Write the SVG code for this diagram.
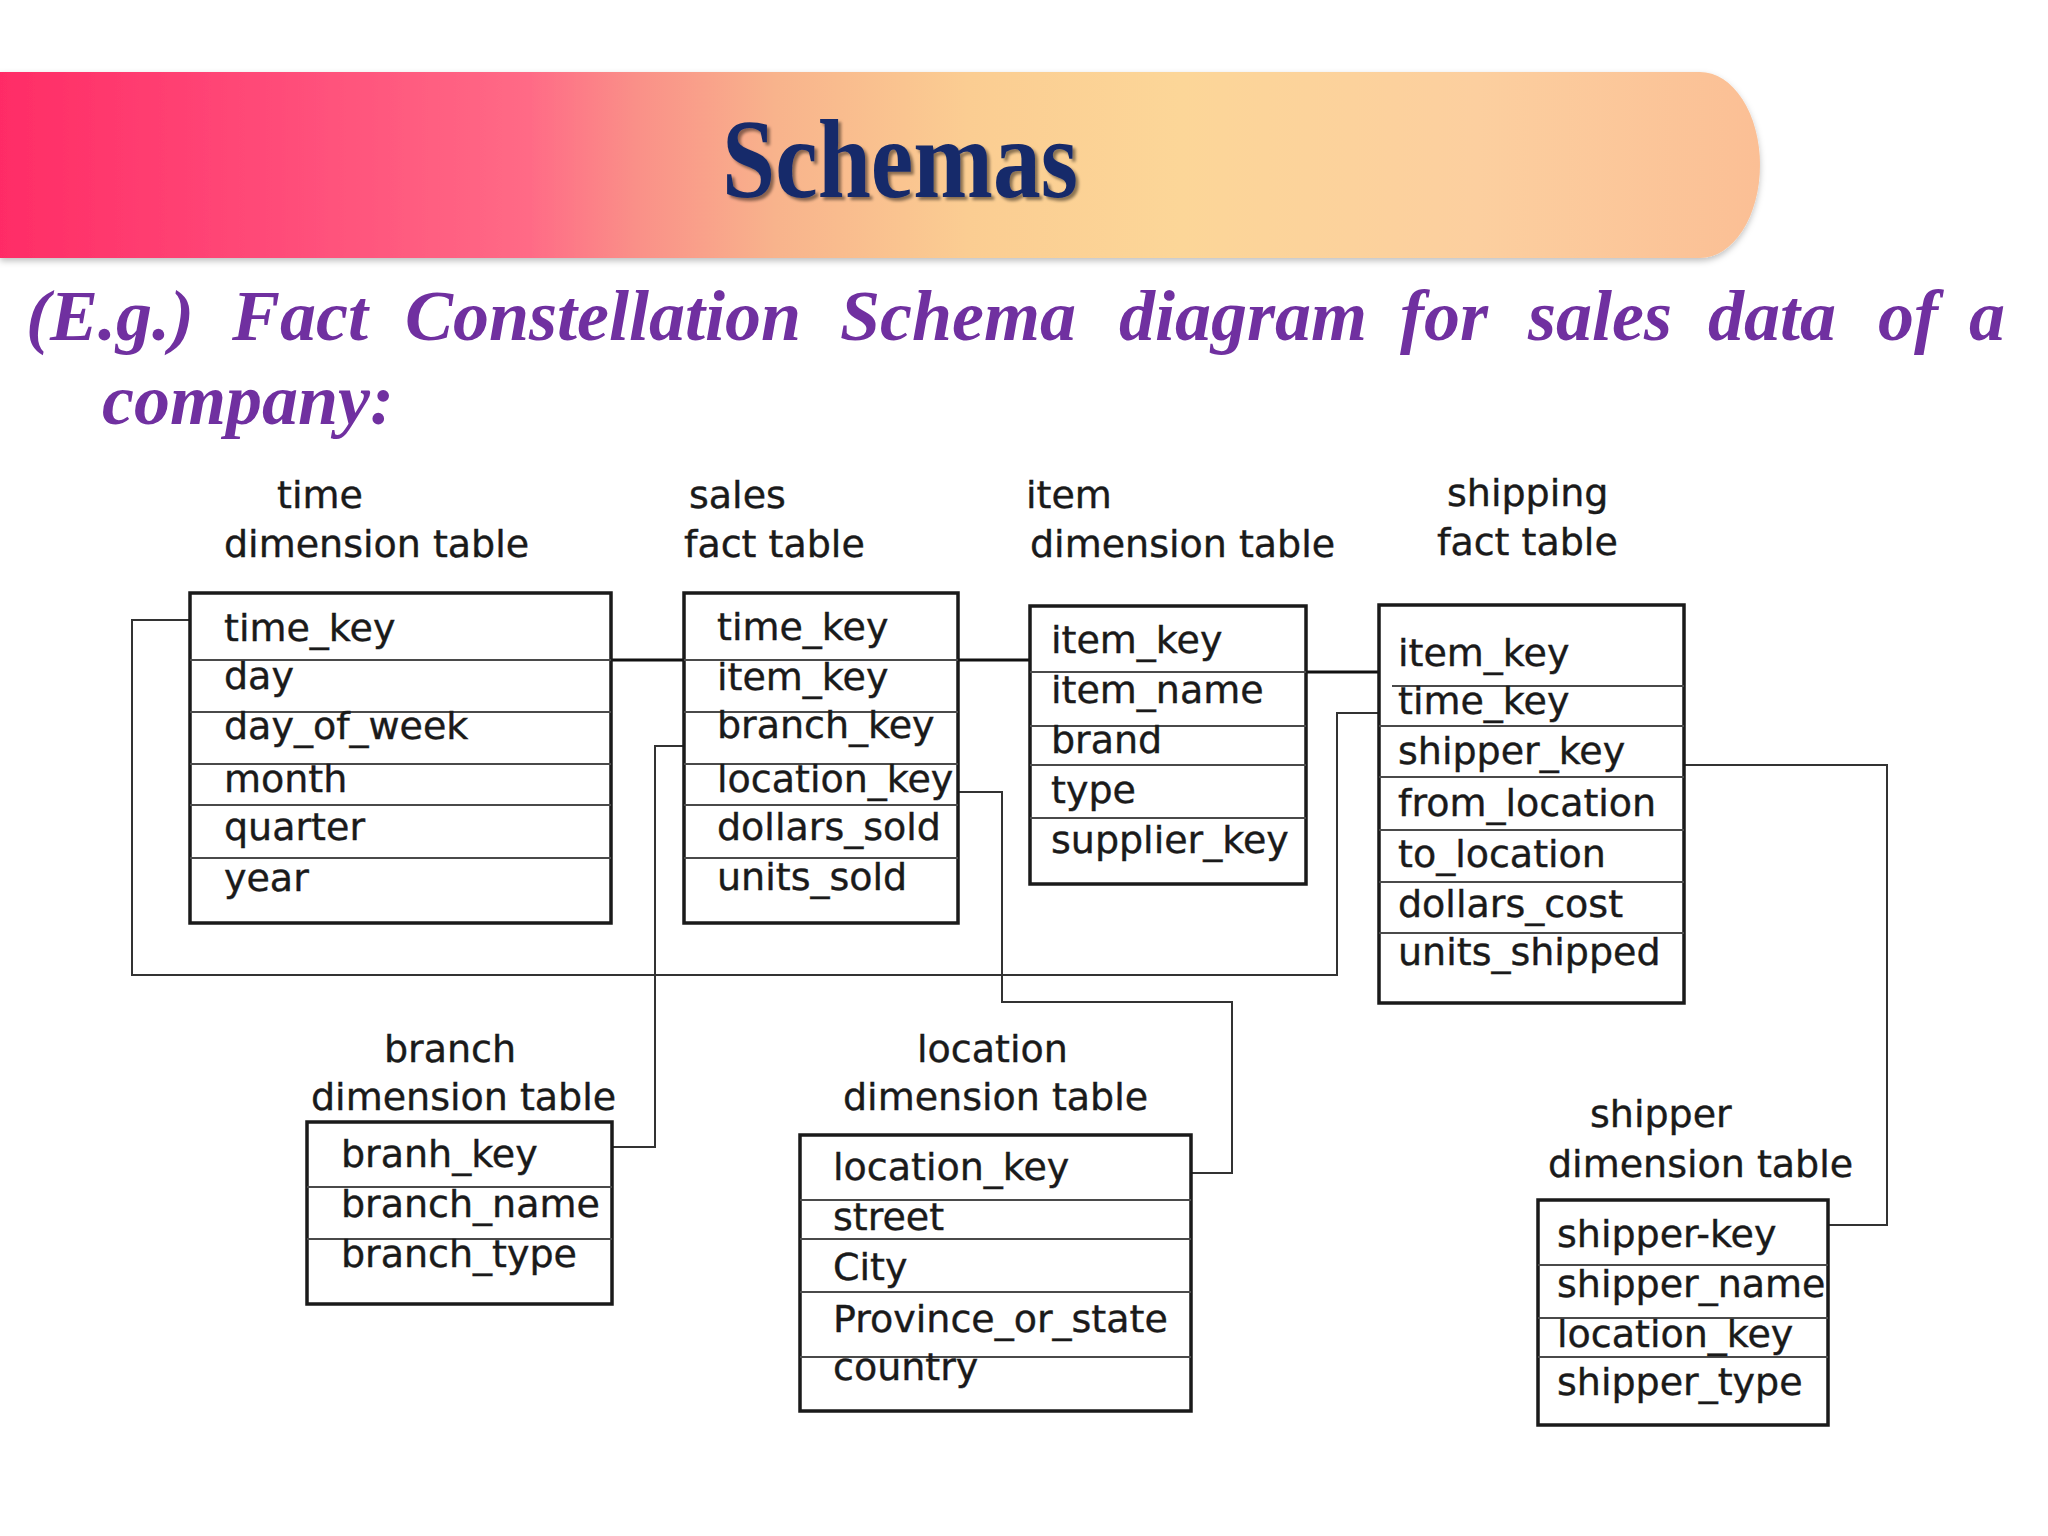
<svg xmlns="http://www.w3.org/2000/svg" width="2048" height="1536" viewBox="0 0 2048 1536">
<defs>
<linearGradient id="bannerGrad" x1="0" y1="0" x2="1760" y2="0" gradientUnits="userSpaceOnUse">
<stop offset="0" stop-color="#ff2c66"/>
<stop offset="0.15" stop-color="#ff4a78"/>
<stop offset="0.30" stop-color="#ff6a86"/>
<stop offset="0.36" stop-color="#fa8f88"/>
<stop offset="0.44" stop-color="#f8b38c"/>
<stop offset="0.55" stop-color="#fbcd92"/>
<stop offset="0.67" stop-color="#fcd698"/>
<stop offset="0.84" stop-color="#fccf9f"/>
<stop offset="1" stop-color="#fbbf95"/>
</linearGradient>
<filter id="bannerShadow" x="-5%" y="-20%" width="110%" height="150%">
<feDropShadow dx="0" dy="3" stdDeviation="3" flood-color="#000" flood-opacity="0.25"/>
</filter>
<filter id="titleShadow" x="-10%" y="-20%" width="120%" height="150%">
<feDropShadow dx="3" dy="3" stdDeviation="1.5" flood-color="#000" flood-opacity="0.45"/>
</filter>
<style>
.box{fill:#fff;stroke:#1a1a1a;stroke-width:3.5}
.sep{stroke:#4a4a4a;stroke-width:2}
.conn{fill:none;stroke:#333;stroke-width:2}
.link{fill:none;stroke:#111;stroke-width:3}
.t{font-family:"DejaVu Sans","Liberation Sans",sans-serif;font-size:38px;fill:#1a1a1a;stroke:#1a1a1a;stroke-width:0.4}
.h{font-family:"DejaVu Sans","Liberation Sans",sans-serif;font-size:38px;fill:#1a1a1a;stroke:#1a1a1a;stroke-width:0.4}
.title{font-family:"Liberation Serif","Times New Roman",serif;font-weight:bold;font-size:112px;fill:#172b6b}
.sub{font-family:"Liberation Serif","Times New Roman",serif;font-weight:bold;font-style:italic;font-size:72px;fill:#7030a0}
</style>
</defs>
<rect width="2048" height="1536" fill="#fff"/>

<g id="banner">
<path d="M0,72 H1700 A60,93 0 0 1 1700,258 H0 Z" fill="url(#bannerGrad)" filter="url(#bannerShadow)"/>
<text class="title" x="722" y="197" textLength="356" lengthAdjust="spacingAndGlyphs" filter="url(#titleShadow)">Schemas</text>
</g>

<g id="subtitle">
<text class="sub" y="340"><tspan x="26">(E.g.)</tspan><tspan x="232">Fact</tspan><tspan x="405">Constellation</tspan><tspan x="840">Schema</tspan><tspan x="1119">diagram</tspan><tspan x="1400">for</tspan><tspan x="1528">sales</tspan><tspan x="1708">data</tspan><tspan x="1878">of</tspan><tspan x="1969">a</tspan></text>
<text class="sub" x="102" y="424">company:</text>
</g>

<g id="connectors">
<line class="link" x1="611" y1="660" x2="684" y2="660"/>
<line class="link" x1="958" y1="660" x2="1030" y2="660"/>
<line class="link" x1="1306" y1="672" x2="1379" y2="672"/>
<polyline class="conn" points="190,620 132,620 132,975 1337,975 1337,713 1379,713"/>
<polyline class="conn" points="684,746 655,746 655,1147 612,1147"/>
<polyline class="conn" points="958,792 1002,792 1002,1002 1232,1002 1232,1173 1191,1173"/>
<polyline class="conn" points="1684,765 1887,765 1887,1225 1828,1225"/>
</g>

<g id="time">
<text class="h" x="277" y="508">time</text>
<text class="h" x="224" y="557">dimension table</text>
<rect class="box" x="190" y="593" width="421" height="330"/>
<line class="sep" x1="190" y1="660" x2="611" y2="660"/>
<line class="sep" x1="190" y1="712" x2="611" y2="712"/>
<line class="sep" x1="190" y1="764" x2="611" y2="764"/>
<line class="sep" x1="190" y1="805" x2="611" y2="805"/>
<line class="sep" x1="190" y1="858" x2="611" y2="858"/>
<text class="t" x="224" y="641">time_key</text>
<text class="t" x="224" y="689">day</text>
<text class="t" x="224" y="739">day_of_week</text>
<text class="t" x="224" y="792">month</text>
<text class="t" x="224" y="840">quarter</text>
<text class="t" x="224" y="891">year</text>
</g>

<g id="sales">
<text class="h" x="689" y="508">sales</text>
<text class="h" x="684" y="557">fact table</text>
<rect class="box" x="684" y="593" width="274" height="330"/>
<line class="sep" x1="684" y1="660" x2="958" y2="660"/>
<line class="sep" x1="684" y1="712" x2="958" y2="712"/>
<line class="sep" x1="684" y1="764" x2="958" y2="764"/>
<line class="sep" x1="684" y1="805" x2="958" y2="805"/>
<line class="sep" x1="684" y1="858" x2="958" y2="858"/>
<text class="t" x="717" y="640">time_key</text>
<text class="t" x="717" y="690">item_key</text>
<text class="t" x="717" y="738">branch_key</text>
<text class="t" x="717" y="792">location_key</text>
<text class="t" x="717" y="840">dollars_sold</text>
<text class="t" x="717" y="890">units_sold</text>
</g>

<g id="item">
<text class="h" x="1026" y="508">item</text>
<text class="h" x="1030" y="557">dimension table</text>
<rect class="box" x="1030" y="606" width="276" height="278"/>
<line class="sep" x1="1030" y1="672" x2="1306" y2="672"/>
<line class="sep" x1="1030" y1="726" x2="1306" y2="726"/>
<line class="sep" x1="1030" y1="765" x2="1306" y2="765"/>
<line class="sep" x1="1030" y1="818" x2="1306" y2="818"/>
<text class="t" x="1051" y="653">item_key</text>
<text class="t" x="1051" y="703">item_name</text>
<text class="t" x="1051" y="753">brand</text>
<text class="t" x="1051" y="803">type</text>
<text class="t" x="1051" y="853">supplier_key</text>
</g>

<g id="shipping">
<text class="h" x="1447" y="506">shipping</text>
<text class="h" x="1437" y="555">fact table</text>
<rect class="box" x="1379" y="605" width="305" height="398"/>
<line class="sep" x1="1392" y1="686" x2="1684" y2="686"/>
<line class="sep" x1="1379" y1="726" x2="1684" y2="726"/>
<line class="sep" x1="1379" y1="777" x2="1684" y2="777"/>
<line class="sep" x1="1379" y1="830" x2="1684" y2="830"/>
<line class="sep" x1="1379" y1="882" x2="1684" y2="882"/>
<line class="sep" x1="1379" y1="933" x2="1684" y2="933"/>
<text class="t" x="1398" y="666">item_key</text>
<text class="t" x="1398" y="714">time_key</text>
<text class="t" x="1398" y="764">shipper_key</text>
<text class="t" x="1398" y="816">from_location</text>
<text class="t" x="1398" y="867">to_location</text>
<text class="t" x="1398" y="917">dollars_cost</text>
<text class="t" x="1398" y="965">units_shipped</text>
</g>

<g id="branch">
<text class="h" x="384" y="1062">branch</text>
<text class="h" x="311" y="1110">dimension table</text>
<rect class="box" x="307" y="1122" width="305" height="182"/>
<line class="sep" x1="307" y1="1187" x2="612" y2="1187"/>
<line class="sep" x1="307" y1="1239" x2="612" y2="1239"/>
<text class="t" x="341" y="1167">branh_key</text>
<text class="t" x="341" y="1217">branch_name</text>
<text class="t" x="341" y="1267">branch_type</text>
</g>

<g id="location">
<text class="h" x="917" y="1062">location</text>
<text class="h" x="843" y="1110">dimension table</text>
<rect class="box" x="800" y="1135" width="391" height="276"/>
<line class="sep" x1="800" y1="1200" x2="1191" y2="1200"/>
<line class="sep" x1="800" y1="1239" x2="1191" y2="1239"/>
<line class="sep" x1="800" y1="1292" x2="1191" y2="1292"/>
<line class="sep" x1="800" y1="1357" x2="1191" y2="1357"/>
<text class="t" x="833" y="1180">location_key</text>
<text class="t" x="833" y="1230">street</text>
<text class="t" x="833" y="1280">City</text>
<text class="t" x="833" y="1332">Province_or_state</text>
<text class="t" x="833" y="1380">country</text>
</g>

<g id="shipper">
<text class="h" x="1590" y="1127">shipper</text>
<text class="h" x="1548" y="1177">dimension table</text>
<rect class="box" x="1538" y="1200" width="290" height="225"/>
<line class="sep" x1="1538" y1="1265" x2="1828" y2="1265"/>
<line class="sep" x1="1538" y1="1318" x2="1828" y2="1318"/>
<line class="sep" x1="1538" y1="1357" x2="1828" y2="1357"/>
<text class="t" x="1557" y="1247">shipper-key</text>
<text class="t" x="1557" y="1297">shipper_name</text>
<text class="t" x="1557" y="1347">location_key</text>
<text class="t" x="1557" y="1395">shipper_type</text>
</g>
</svg>
